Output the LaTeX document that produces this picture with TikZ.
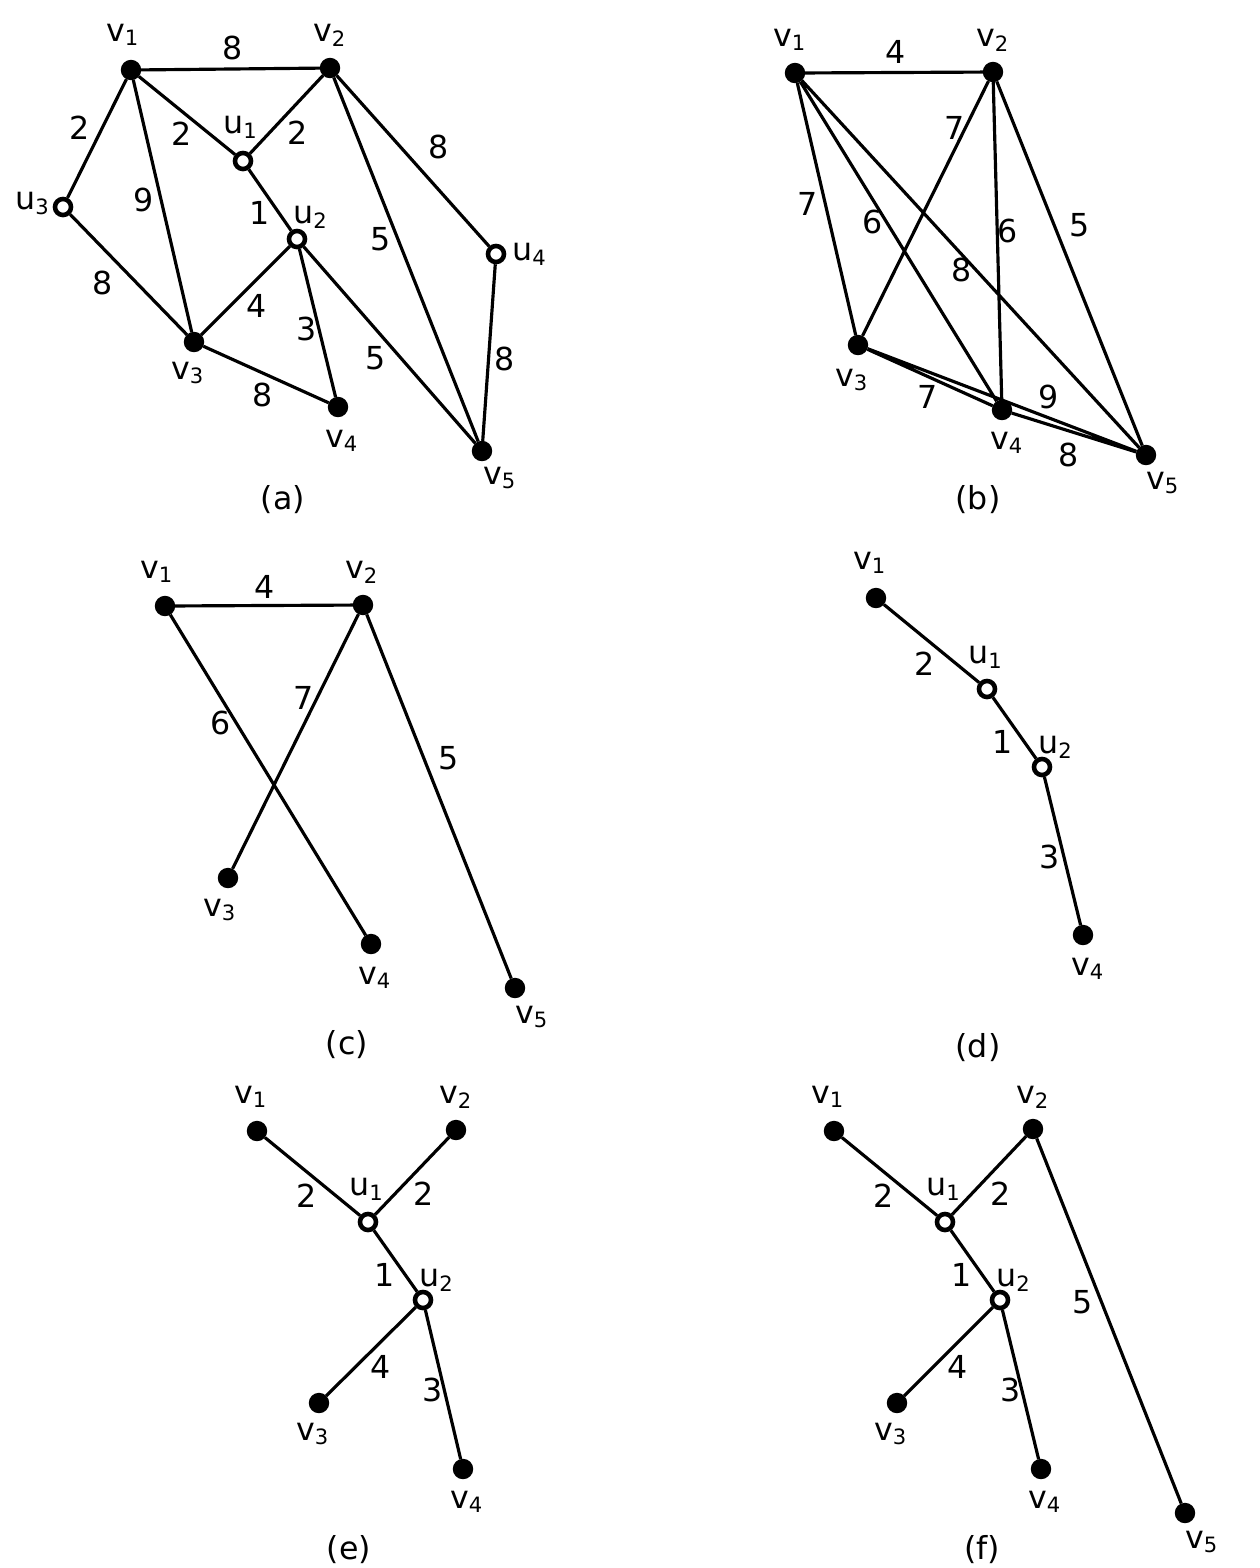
\documentclass[tikz,border=0pt]{standalone}
\usepackage{fontspec}
\setmainfont{DejaVu Sans}
\begin{document}
\begin{tikzpicture}[x=0.01cm,y=-0.01cm,
  bv/.style={circle,fill=black,draw=black,inner sep=0pt,minimum size=0.19cm},
  wv/.style={circle,fill=white,draw=black,line width=1.3pt,inner sep=0pt,minimum size=0.16cm},
  lab/.style={inner sep=0pt,font=\fontsize{9}{11}\selectfont},
  ed/.style={line width=0.9pt}]
\useasboundingbox (0,0) rectangle (1259,1568);
\newcommand{\vl}[3]{\node[lab] at (#1) {#2\textsubscript{#3}};}
\newcommand{\el}[2]{\node[lab] at (#1) {#2};}
% (a)
\node[bv] (av1) at (131,70) {}; \node[bv] (av2) at (330,68) {};
\node[wv] (au1) at (243,161) {}; \node[wv] (au2) at (297,239) {};
\node[wv] (au3) at (63,207) {}; \node[wv] (au4) at (496,254) {};
\node[bv] (av3) at (194,342) {}; \node[bv] (av4) at (338,407) {};
\node[bv] (av5) at (482,451) {};
\begin{scope}[on background layer/.try]
\end{scope}
\draw[ed] (av1)--(av2) (av1)--(au3) (av1)--(au1) (av1)--(av3) (au1)--(av2) (au1)--(au2)
 (au3)--(av3) (au2)--(av3) (au2)--(av4) (au2)--(av5) (av2)--(av5) (av2)--(au4) (au4)--(av5) (av3)--(av4);
\el{233,48}{8}\el{80,128}{2}\el{182,134}{2}\el{144,200}{9}\el{298,133}{2}\el{260,213}{1}
\el{103,283}{8}\el{257,306}{4}\el{307,329}{3}\el{376,358}{5}\el{381,239}{5}\el{439,147}{8}
\el{505,359}{8}\el{263,395}{8}
\vl{123,35}{v}{1}\vl{330,35}{v}{2}\vl{241,127}{u}{1}\vl{311,217}{u}{2}\vl{33,203}{u}{3}
\vl{530,254}{u}{4}\vl{188,373}{v}{3}\vl{342,441}{v}{4}\vl{500,478}{v}{5}
\node[lab] at (283,500) {(a)};
% (b)
\node[bv] (bv1) at (795,73) {}; \node[bv] (bv2) at (993,72) {};
\node[bv] (bv3) at (858,345) {}; \node[bv] (bv4) at (1002,410) {};
\node[bv] (bv5) at (1146,455) {};
\draw[ed] (bv1)--(bv2) (bv1)--(bv3) (bv1)--(bv4) (bv1)--(bv5) (bv2)--(bv3) (bv2)--(bv4)
 (bv2)--(bv5) (bv3)--(bv4) (bv3)--(bv5) (bv4)--(bv5);
\el{896,52}{4}\el{808,204}{7}\el{873,222}{6}\el{962,270}{8}\el{955,128}{7}\el{1008,231}{6}
\el{1080,225}{5}\el{928,397}{7}\el{1049,397}{9}\el{1069,455}{8}
\vl{790,40}{v}{1}\vl{993,40}{v}{2}\vl{852,380}{v}{3}\vl{1007,443}{v}{4}\vl{1163,483}{v}{5}
\node[lab] at (978,500) {(b)};
% (c)
\node[bv] (cv1) at (165,606) {}; \node[bv] (cv2) at (363,605) {};
\node[bv] (cv3) at (228,878) {}; \node[bv] (cv4) at (371,944) {};
\node[bv] (cv5) at (515,988) {};
\draw[ed] (cv1)--(cv2) (cv2)--(cv3) (cv1)--(cv4) (cv2)--(cv5);
\el{265,587}{4}\el{304,698}{7}\el{221,723}{6}\el{449,758}{5}
\vl{157,572}{v}{1}\vl{362,572}{v}{2}\vl{220,910}{v}{3}\vl{375,978}{v}{4}\vl{532,1017}{v}{5}
\node[lab] at (347,1045) {(c)};
% (d)
\node[bv] (dv1) at (876,598) {}; \node[wv] (du1) at (987,689) {};
\node[wv] (du2) at (1042,767) {}; \node[bv] (dv4) at (1083,935) {};
\draw[ed] (dv1)--(du1) (du1)--(du2) (du2)--(dv4);
\el{925,664}{2}\el{1003,742}{1}\el{1050,857}{3}
\vl{870,563}{v}{1}\vl{986,657}{u}{1}\vl{1056,747}{u}{2}\vl{1088,969}{v}{4}
\node[lab] at (978,1048) {(d)};
% (e)
\node[bv] (ev1) at (257,1131) {}; \node[bv] (ev2) at (456,1130) {};
\node[wv] (eu1) at (368,1222) {}; \node[wv] (eu2) at (423,1300) {};
\node[bv] (ev3) at (319,1403) {}; \node[bv] (ev4) at (463,1469) {};
\draw[ed] (ev1)--(eu1) (ev2)--(eu1) (eu1)--(eu2) (eu2)--(ev3) (eu2)--(ev4);
\el{307,1196}{2}\el{424,1194}{2}\el{385,1275}{1}\el{381,1367}{4}\el{433,1390}{3}
\vl{251,1097}{v}{1}\vl{456,1097}{v}{2}\vl{367,1189}{u}{1}\vl{437,1280}{u}{2}
\vl{313,1434}{v}{3}\vl{467,1502}{v}{4}
\node[lab] at (349,1550) {(e)};
% (f)
\node[bv] (fv1) at (834,1131) {}; \node[bv] (fv2) at (1033,1129) {};
\node[wv] (fu1) at (945,1222) {}; \node[wv] (fu2) at (1000,1300) {};
\node[bv] (fv3) at (897,1403) {}; \node[bv] (fv4) at (1041,1469) {};
\node[bv] (fv5) at (1185,1513) {};
\draw[ed] (fv1)--(fu1) (fv2)--(fu1) (fu1)--(fu2) (fu2)--(fv3) (fu2)--(fv4) (fv2)--(fv5);
\el{884,1196}{2}\el{1001,1194}{2}\el{962,1275}{1}\el{958,1367}{4}\el{1011,1390}{3}\el{1083,1302}{5}
\vl{828,1097}{v}{1}\vl{1033,1097}{v}{2}\vl{944,1189}{u}{1}\vl{1014,1280}{u}{2}
\vl{891,1434}{v}{3}\vl{1045,1502}{v}{4}\vl{1202,1542}{v}{5}
\node[lab] at (982,1550) {(f)};
\end{tikzpicture}
\end{document}
